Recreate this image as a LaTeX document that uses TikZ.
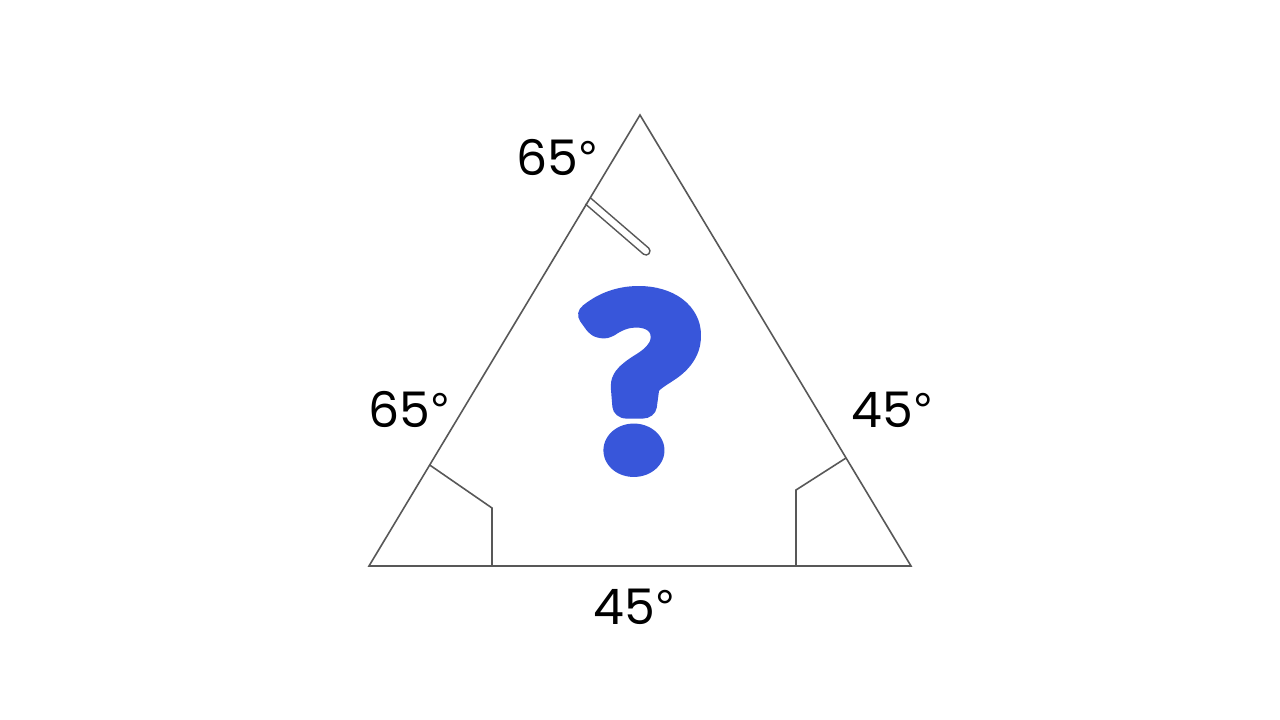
\documentclass[tikz,border=0pt]{standalone}
\usepackage{fontspec}
\setmainfont{Poppins}
\newfontfamily\qfont{Lato}
\newfontfamily\degfont{Liberation Sans}
\usepackage{graphicx}
\usetikzlibrary{calc}
\definecolor{edge}{RGB}{88,88,88}
\definecolor{qblue}{RGB}{56,86,218}
\newcommand{\dg}{{\degfont °}}
\tikzset{
  side/.style={draw=edge,line width=1.6pt,line join=miter},
  cornermark/.style={draw=edge,line width=1.6pt},
  deg/.style={font=\fontsize{49}{49}\selectfont,text=black,inner sep=0pt}
}
\begin{document}
\begin{tikzpicture}[x=1pt,y=-1pt]
\useasboundingbox[fill=white] (0,0) rectangle (1280,720);
\coordinate (A) at (640,115);
\coordinate (B) at (369,566);
\coordinate (C) at (911,566);
\draw[side] (A) -- (B) -- (C) -- cycle;
% corner marks
\coordinate (L1) at (429.7,465);
\coordinate (L2) at (492,508);
\coordinate (L3) at (492,566);
\draw[cornermark] (L1) -- (L2) -- (L3);
\coordinate (R1) at (846,458);
\coordinate (R2) at (796,490);
\coordinate (R3) at (796,566);
\draw[cornermark] (R1) -- (R2) -- (R3);
% top mark (thin bar)
\coordinate (T0) at (588,201);
\coordinate (T1) at (646,251);
\draw[edge,line width=1.4pt] ($(T0)+(2.6,-3.0)$) -- ($(T1)+(2.6,-3.0)$)
  arc[start angle=-49.2,end angle=130.8,radius=4] -- ($(T0)+(-2.6,3.0)$);
% labels
\node[deg] (t65) at (557,157) {65\dg};
\node[deg] (l65) at (409,409) {65\dg};
\node[deg] (r45) at (892,410) {45\dg};
\node[deg] (b45) at (634,607) {45\dg};
% question mark
\node[inner sep=0pt,text=qblue] (q) at (640,381.5) {\resizebox{116pt}{164pt}{\special{pdf:literal direct 1 j 1 J 1.1 w 2 Tr}\qfont ?\special{pdf:literal direct 0 Tr}}};
\end{tikzpicture}
\end{document}
